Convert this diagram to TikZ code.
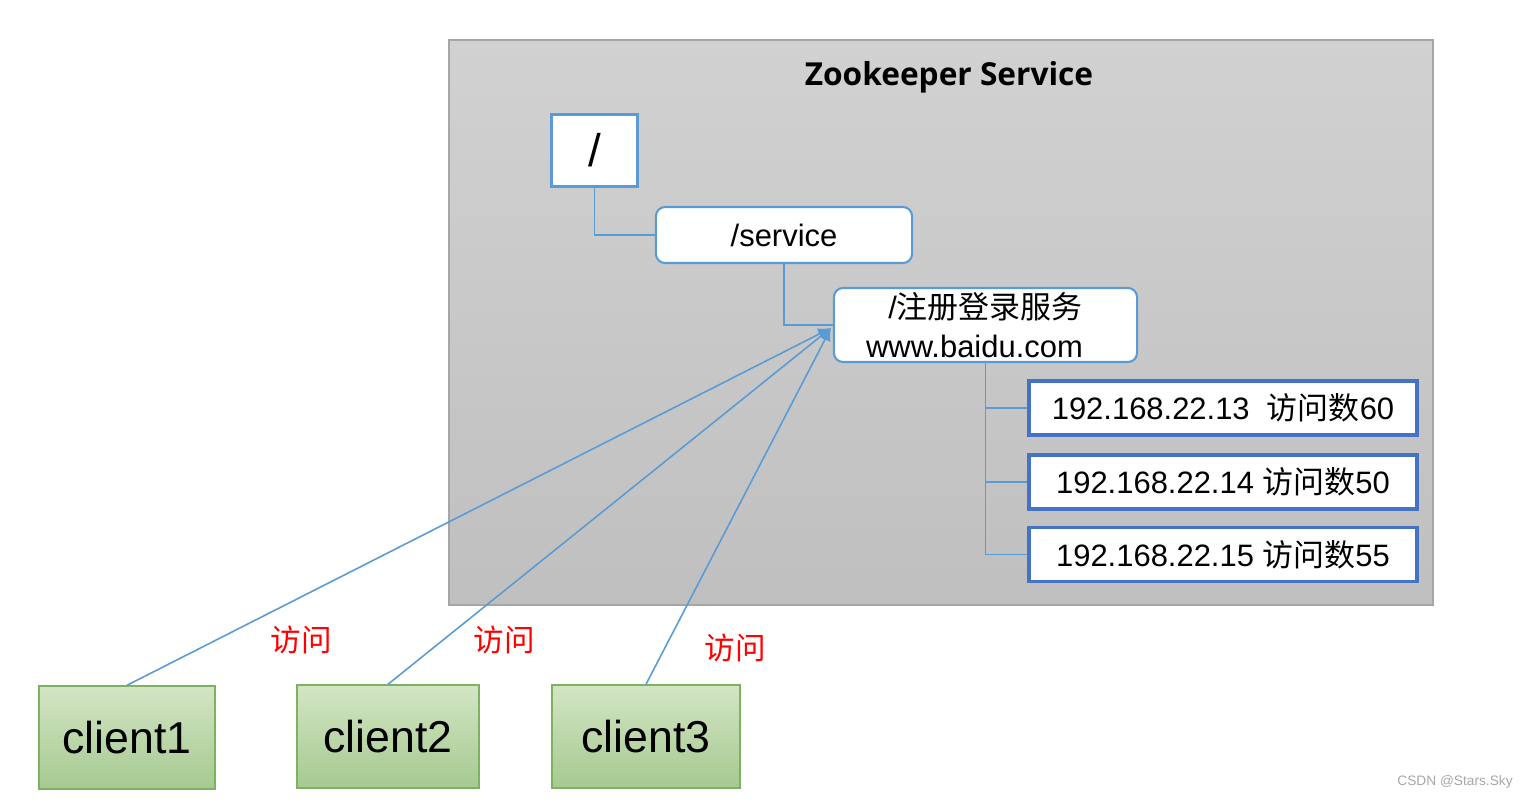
\documentclass[tikz,border=0pt]{standalone}
\usepackage{fontspec}
\setmainfont{Liberation Sans}
\newfontfamily\cjk{Noto Sans CJK SC}
\newfontfamily\titlefont{Open Sans}
\usetikzlibrary{arrows.meta}
\definecolor{zkblue}{HTML}{5B9BD5}
\definecolor{ipblue}{HTML}{4472C4}
\definecolor{zkgreen}{HTML}{7FB260}

\begin{document}
\begin{tikzpicture}[x=0.01cm, y=-0.01cm,
  tree/.style={draw=zkblue, line width=0.4pt},
  visit/.style={draw=zkblue, line width=0.45pt, -{Latex[length=3.6pt,width=3.4pt]}},
  zknode/.style={draw=zkblue, fill=white, line width=0.6pt, rounded corners=2.6pt, inner sep=0pt, font=\fontsize{8.8}{11}\selectfont},
  ipnode/.style={draw=ipblue, fill=white, line width=1.1pt, inner sep=0pt, minimum width=3.88cm, minimum height=0.54cm, font=\fontsize{8.8}{11}\selectfont},
  client/.style={draw=zkgreen, line width=0.4pt, top color=green!30!olive!10!white!75!zkgreen, bottom color=zkgreen!70, inner sep=0pt, minimum height=1.03cm, font=\fontsize{12.7}{15}\selectfont},
  redtag/.style={text=red, font=\cjk\fontsize{8.7}{10}\selectfont}]
  \useasboundingbox (0,0) rectangle (1529,799);
  \shade[top color=black!18, bottom color=black!25, draw=black!35, line width=0.3pt] (449,40) rectangle (1433,605);
  \node[font=\titlefont\bfseries\fontsize{9}{11}\selectfont] (title) at (949,77) {Zookeeper Service};

  \node[draw=zkblue, fill=white, line width=0.9pt, minimum width=0.86cm, minimum height=0.72cm, inner sep=0pt, font=\fontsize{13}{15}\selectfont] (root) at (594.5,150.5) {/};
  \node[zknode, minimum width=2.56cm, minimum height=0.56cm] (svc) at (784,235) {/service};
  \node[zknode, minimum width=3.03cm, minimum height=0.74cm, align=center] (reg) at (985.5,325) {/{\cjk 注册登录服务}\\[0pt]www.baidu.com\hspace*{0.22cm}};
  \node[ipnode] (ip1) at (1223,408) {192.168.22.13\ \ {\cjk 访问数}60};
  \node[ipnode] (ip2) at (1223,482) {192.168.22.14 {\cjk 访问数}50};
  \node[ipnode] (ip3) at (1223,554.5) {192.168.22.15 {\cjk 访问数}55};

  \draw[tree] (root.south) |- (svc.west);
  \draw[tree] (svc.south) |- (reg.west);
  \draw[tree] (reg.south) |- (ip1.west);
  \draw[tree] (reg.south) |- (ip2.west);
  \draw[tree] (reg.south) |- (ip3.west);

  \node[client, minimum width=1.76cm] (c1) at (127,737.5) {client1};
  \node[client, minimum width=1.82cm] (c2) at (388,736.5) {client2};
  \node[client, minimum width=1.88cm] (c3) at (646,736.5) {client3};

  \coordinate (hit) at (831,328);
  \draw[visit] (c1.north) -- (hit);
  \draw[visit] (c2.north) -- (hit);
  \draw[visit] (c3.north) -- (hit);

  \node[redtag] (t1) at (301,640) {访问};
  \node[redtag] (t2) at (504,640) {访问};
  \node[redtag] (t3) at (735,648) {访问};

  \node[text=black!35, font=\fontsize{3.9}{5}\selectfont] (mark) at (1455,782) {CSDN @Stars.Sky};
\end{tikzpicture}
\end{document}
